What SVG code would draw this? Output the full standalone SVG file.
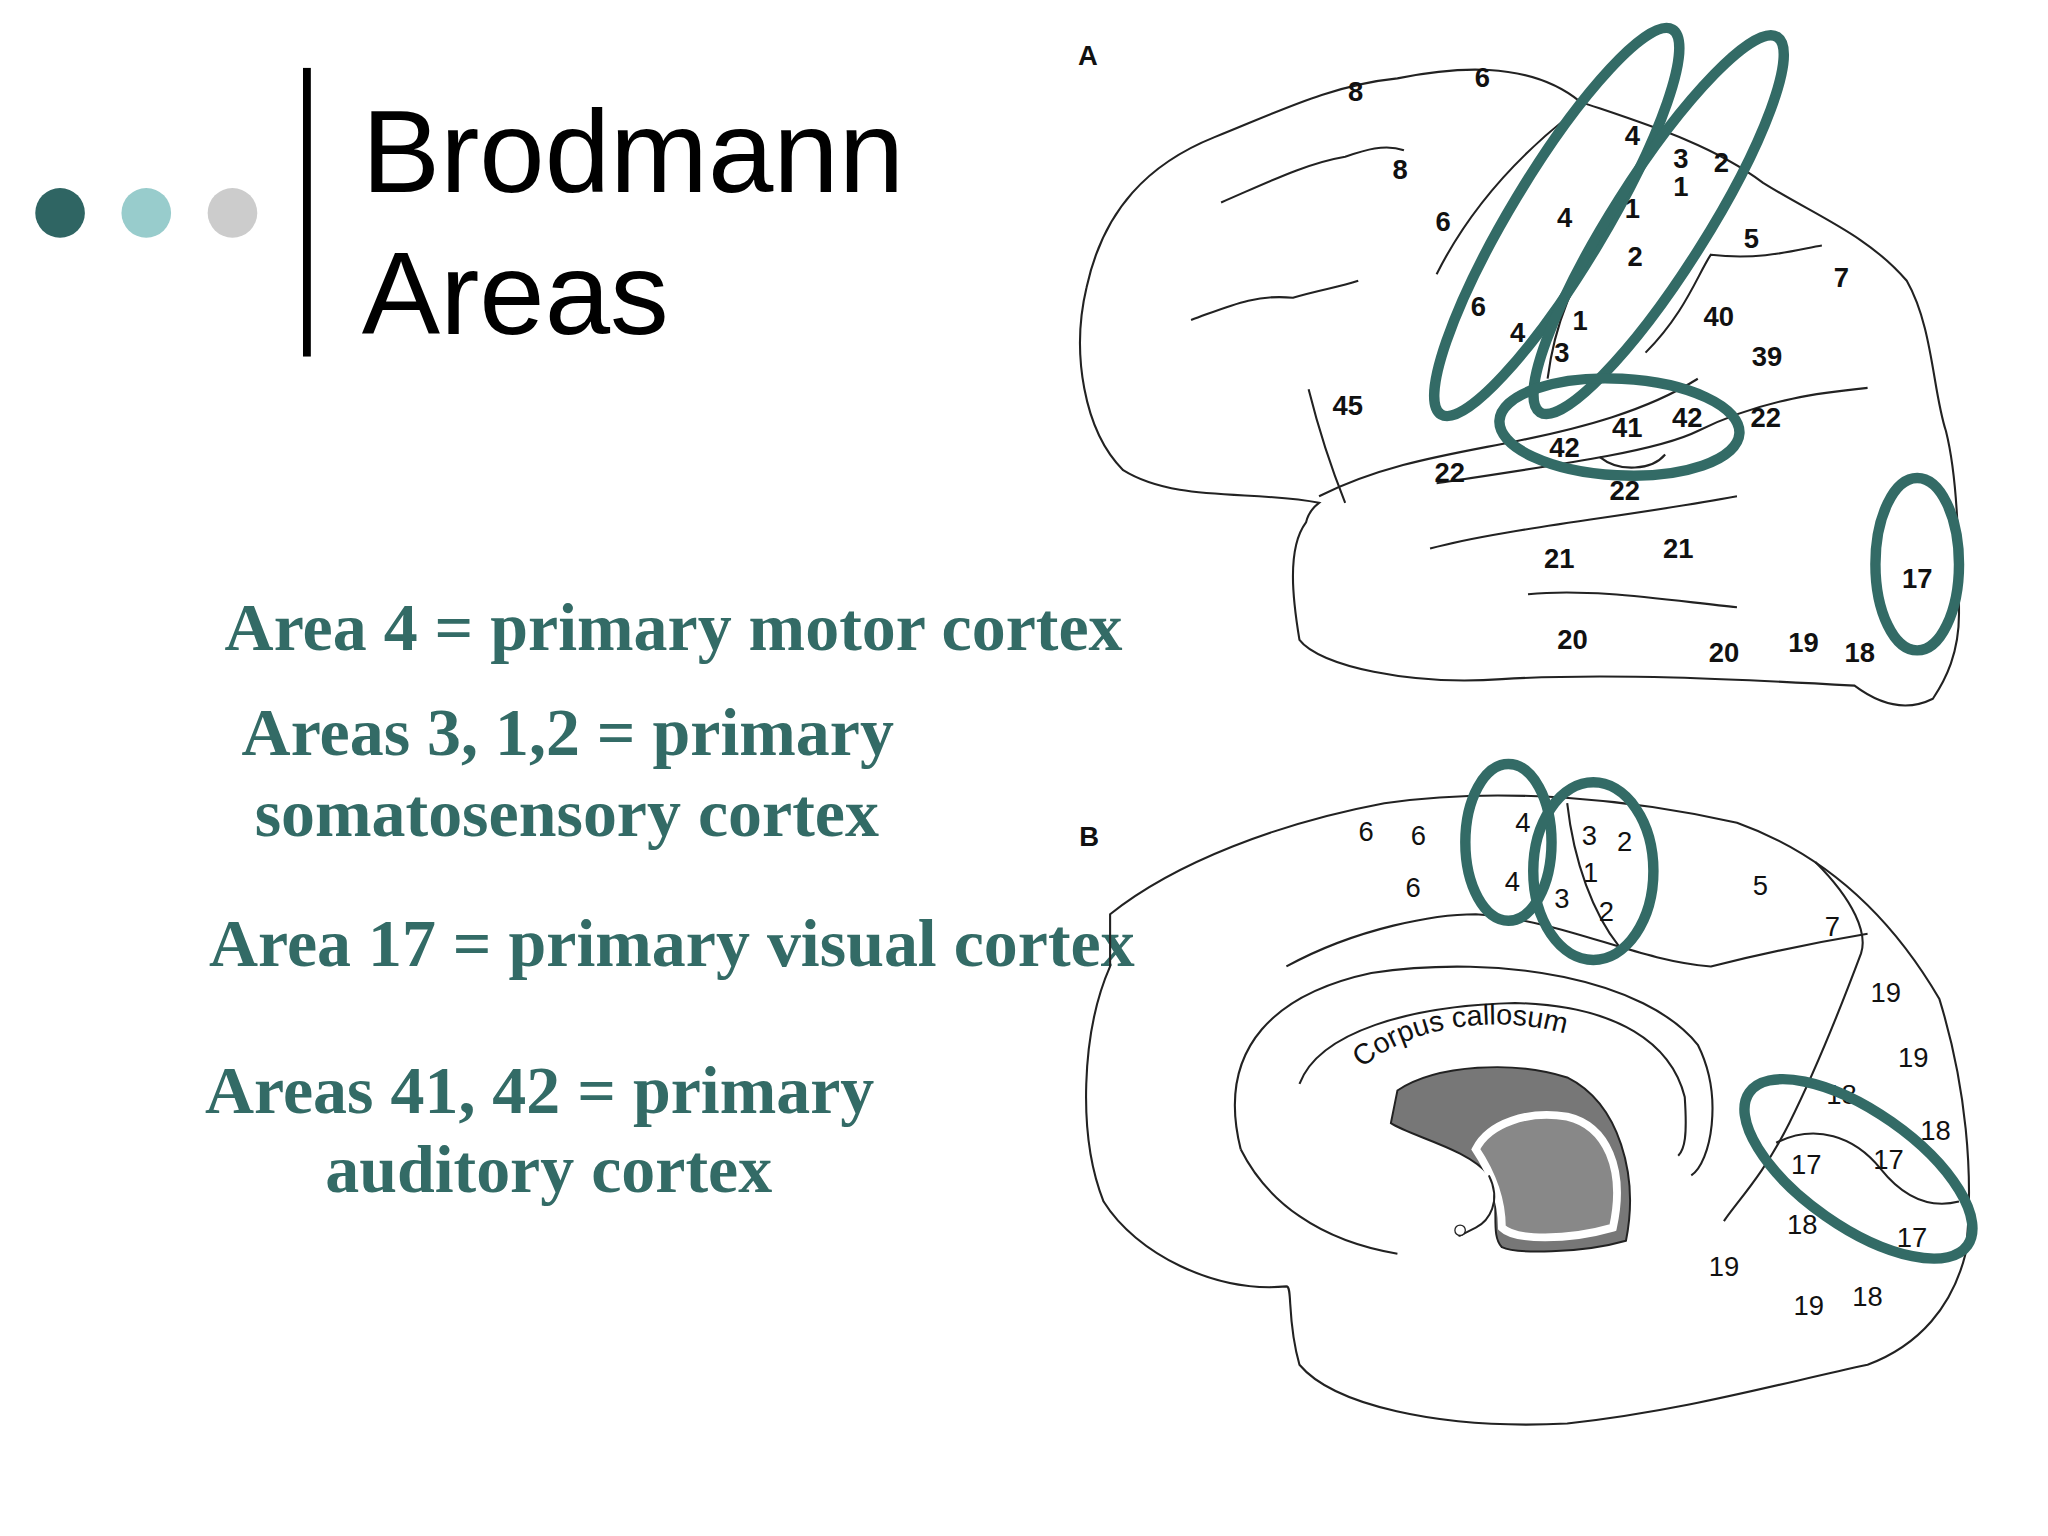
<svg xmlns="http://www.w3.org/2000/svg" width="2048" height="1536" viewBox="0 0 2048 1536">
<defs>
<style>
.ol{fill:none;stroke:#222;stroke-width:1.6}
.ring{fill:none;stroke:#336b66;stroke-width:8}
.n{font-family:"Liberation Sans",Arial,sans-serif;font-size:21px;fill:#111;text-anchor:middle}
.g{font-family:"Liberation Serif","Times New Roman",serif;font-weight:bold;font-size:52px;fill:#336b66}
.t{font-family:"Liberation Sans",Arial,sans-serif;font-size:90px;fill:#000}
</style>
<path id="cc" d="M1043,818 C1090,775 1200,770 1252,822"/>
</defs>
<rect width="2048" height="1536" fill="#fff"/>
<g transform="scale(1.306)">
<g id="title">
<circle cx="46" cy="163" r="19" fill="#2f6563"/>
<circle cx="112" cy="163" r="19" fill="#98cccc"/>
<circle cx="178" cy="163" r="19" fill="#cccccc"/>
<rect x="232" y="52" width="6" height="221" fill="#000"/>
<text class="t" x="277" y="147">Brodmann</text>
<text class="t" x="277" y="256">Areas</text>
</g>
<g id="legend">
<text class="g" x="172" y="498">Area 4 = primary motor cortex</text>
<text class="g" x="185" y="578">Areas 3, 1,2 = primary</text>
<text class="g" x="195" y="640">somatosensory cortex</text>
<text class="g" x="160" y="740">Area 17 = primary visual cortex</text>
<text class="g" x="157" y="852">Areas 41, 42 = primary</text>
<text class="g" x="249" y="913">auditory cortex</text>
</g>
<g id="brainA">
<path class="ol" d="M1010,385 C960,375 900,385 860,360 C830,330 820,270 832,220 C845,160 880,125 930,105 C980,85 1020,65 1070,60 C1110,52 1170,45 1210,78 C1260,95 1310,110 1350,140 C1390,165 1430,180 1460,215 C1480,250 1480,300 1490,330 C1500,370 1500,430 1500,470 C1500,500 1490,520 1480,535 C1460,545 1440,540 1420,525 C1330,520 1230,515 1150,520 C1080,525 1010,510 995,490 C990,460 985,420 1000,400 C1002,392 1006,388 1010,385 Z"/>
<path class="ol" d="M1010,380 C1060,355 1110,348 1160,338 C1210,328 1260,315 1300,290"/>
<path class="ol" d="M935,155 C970,140 1000,125 1030,120 C1045,115 1060,110 1075,115"/>
<path class="ol" d="M912,245 C940,235 960,225 990,228 C1010,222 1025,220 1040,215"/>
<path class="ol" d="M1002,298 C1010,330 1020,360 1030,385"/>
<path class="ol" d="M1100,210 C1120,170 1150,130 1200,90"/>
<path class="ol" d="M1185,290 C1190,250 1205,210 1230,180"/>
<path class="ol" d="M1260,270 C1290,240 1300,210 1310,195 C1350,200 1380,190 1395,188"/>
<path class="ol" d="M1100,370 C1200,355 1270,345 1300,330 C1350,305 1400,300 1430,297"/>
<path class="ol" d="M1095,420 C1150,405 1250,395 1330,380"/>
<path class="ol" d="M1170,455 C1220,450 1280,460 1330,465"/>
<path class="ol" d="M1225,350 C1240,362 1265,360 1275,348"/>
<text x="833" y="50" class="n" font-weight="bold" font-size="16">A</text>
<g class="n" font-weight="bold">
<text x="1038" y="77">8</text><text x="1135" y="67">6</text><text x="1250" y="111">4</text>
<text x="1287" y="129">3</text><text x="1287" y="150">1</text><text x="1318" y="132">2</text>
<text x="1072" y="137">8</text><text x="1105" y="177">6</text><text x="1198" y="174">4</text>
<text x="1250" y="167">1</text><text x="1252" y="204">2</text><text x="1341" y="190">5</text>
<text x="1410" y="220">7</text><text x="1132" y="242">6</text><text x="1162" y="262">4</text>
<text x="1210" y="253">1</text><text x="1196" y="277">3</text><text x="1316" y="250">40</text>
<text x="1353" y="280">39</text><text x="1032" y="318">45</text><text x="1292" y="327">42</text>
<text x="1246" y="335">41</text><text x="1198" y="350">42</text><text x="1352" y="327">22</text>
<text x="1110" y="369">22</text><text x="1244" y="383">22</text><text x="1194" y="435">21</text>
<text x="1285" y="427">21</text><text x="1468" y="450">17</text><text x="1204" y="497">20</text>
<text x="1320" y="507">20</text><text x="1381" y="499">19</text><text x="1424" y="507">18</text>
</g>
<ellipse class="ring" cx="1192" cy="170" rx="172" ry="36" transform="rotate(-59 1192 170)"/>
<ellipse class="ring" cx="1270" cy="172" rx="170" ry="36" transform="rotate(-57.7 1270 172)"/>
<ellipse class="ring" cx="1240" cy="327" rx="92" ry="37" transform="rotate(3 1240 327)"/>
<ellipse class="ring" cx="1468" cy="432" rx="32" ry="66"/>
</g>
<g id="brainB">
<path class="ol" d="M850,700 C900,660 980,630 1060,615 C1150,602 1250,612 1330,630 C1400,655 1450,705 1485,765 C1505,830 1512,900 1505,960 C1495,1000 1470,1030 1430,1045 C1360,1060 1290,1080 1200,1090 C1100,1095 1020,1075 995,1045 C985,1010 990,985 985,985 C930,990 870,960 845,920 C825,870 828,790 850,740 Z"/>
<path class="ol" d="M950,880 C930,800 980,760 1050,745 C1150,730 1260,750 1300,800 C1320,840 1310,890 1295,900"/>
<path class="ol" d="M995,830 C1010,790 1080,770 1160,768 C1240,770 1280,800 1290,840 C1292,870 1290,880 1285,885"/>
<path class="ol" d="M950,880 C970,920 1010,950 1070,960"/>
<path d="M1070,835 C1100,815 1160,812 1200,825 C1240,845 1255,900 1245,950 C1210,960 1160,960 1150,955 C1140,945 1150,920 1140,900 C1125,880 1080,870 1065,860 Z" fill="#777" stroke="#222" stroke-width="1.5"/>
<path d="M1130,880 C1140,860 1170,850 1200,855 C1230,862 1245,895 1235,940 C1200,950 1160,950 1150,940 C1150,915 1140,895 1130,880 Z" fill="#888" stroke="#fff" stroke-width="6"/>
<path d="M1140,900 C1150,920 1140,935 1130,940 C1120,945 1115,948 1118,945" fill="none" stroke="#222" stroke-width="1.5"/>
<circle cx="1118" cy="942" r="4" fill="#fff" stroke="#222"/>
<path class="ol" d="M985,740 C1040,710 1100,700 1130,700 C1200,705 1250,735 1310,740 C1350,730 1400,720 1430,715"/>
<path class="ol" d="M1390,660 C1420,690 1430,715 1425,730 C1410,770 1390,820 1370,860 C1350,900 1330,920 1320,935"/>
<path class="ol" d="M1360,875 C1390,860 1420,870 1440,895 C1460,920 1480,925 1500,920"/>
<path class="ol" d="M1200,615 C1205,660 1220,700 1240,725"/>
<text x="834" y="648" class="n" font-weight="bold" font-size="16">B</text>
<text font-family="Liberation Sans,Arial,sans-serif" font-size="22" fill="#111"><textPath href="#cc">Corpus callosum</textPath></text>
<g class="n">
<text x="1046" y="644">6</text><text x="1086" y="647">6</text><text x="1166" y="637">4</text>
<text x="1217" y="647">3</text><text x="1244" y="652">2</text><text x="1218" y="675">1</text>
<text x="1082" y="687">6</text><text x="1158" y="682">4</text><text x="1196" y="695">3</text>
<text x="1230" y="705">2</text><text x="1348" y="685">5</text><text x="1403" y="717">7</text>
<text x="1444" y="767">19</text><text x="1465" y="817">19</text><text x="1410" y="845">18</text>
<text x="1482" y="873">18</text><text x="1383" y="899">17</text><text x="1446" y="895">17</text>
<text x="1380" y="945">18</text><text x="1464" y="955">17</text><text x="1320" y="977">19</text>
<text x="1385" y="1007">19</text><text x="1430" y="1000">18</text>
</g>
<ellipse class="ring" cx="1155" cy="645" rx="33" ry="60"/>
<ellipse class="ring" cx="1220" cy="667" rx="46" ry="68"/>
<ellipse class="ring" cx="1423" cy="895" rx="102" ry="44" transform="rotate(35 1423 895)"/>
</g>
</g>
</svg>
